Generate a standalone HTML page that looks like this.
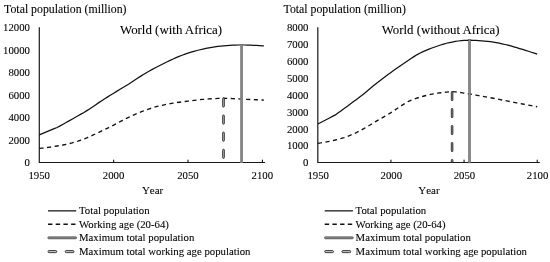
<!DOCTYPE html>
<html><head><meta charset="utf-8"><title>World population</title>
<style>
html,body{margin:0;padding:0;background:#fff;}
svg{display:block;}
text{font-family:"Liberation Serif",serif;fill:#000;stroke:#000;stroke-width:0.09px;}
</style></head>
<body>
<svg width="550" height="262" viewBox="0 0 550 262">
<rect width="550" height="262" fill="#fff"/>
<path d="M39.30 27.30 V162.50 H265.10" fill="none" stroke="#1a1a1a" stroke-width="1.2"/>
<line x1="113.67" x2="113.67" y1="162.50" y2="159.70" stroke="#000" stroke-width="1"/>
<line x1="188.03" x2="188.03" y1="162.50" y2="159.70" stroke="#000" stroke-width="1"/>
<line x1="262.40" x2="262.40" y1="162.50" y2="159.70" stroke="#000" stroke-width="1"/>
<text x="29.90" y="166.30" text-anchor="end" font-size="10.75">0</text>
<text x="29.90" y="143.77" text-anchor="end" font-size="10.75">2000</text>
<text x="29.90" y="121.23" text-anchor="end" font-size="10.75">4000</text>
<text x="29.90" y="98.70" text-anchor="end" font-size="10.75">6000</text>
<text x="29.90" y="76.17" text-anchor="end" font-size="10.75">8000</text>
<text x="29.90" y="53.63" text-anchor="end" font-size="10.75">10000</text>
<text x="29.90" y="31.10" text-anchor="end" font-size="10.75">12000</text>
<text x="39.20" y="178.90" text-anchor="middle" font-size="10.75">1950</text>
<text x="113.57" y="178.90" text-anchor="middle" font-size="10.75">2000</text>
<text x="187.93" y="178.90" text-anchor="middle" font-size="10.75">2050</text>
<text x="262.30" y="178.90" text-anchor="middle" font-size="10.75">2100</text>
<text x="4.10" y="12.70" font-size="11.80">Total population (million)</text>
<text x="120.00" y="34.30" font-size="12.90">World (with Africa)</text>
<text x="141.90" y="194.20" font-size="11.00" style="font-kerning:none">Year</text>
<path d="M39.30 134.90 L42.27 133.66 L45.25 132.42 L48.22 131.18 L51.20 129.94 L54.17 128.70 L57.15 127.46 L60.12 125.86 L63.10 124.19 L66.07 122.54 L69.05 120.87 L72.02 119.18 L75.00 117.49 L77.97 115.81 L80.95 114.15 L83.92 112.43 L86.89 110.60 L89.87 108.70 L92.84 106.72 L95.82 104.65 L98.79 102.61 L101.77 100.65 L104.74 98.74 L107.72 96.87 L110.69 95.04 L113.67 93.22 L116.64 91.37 L119.62 89.52 L122.59 87.73 L125.57 85.99 L128.54 84.20 L131.51 82.24 L134.49 80.23 L137.46 78.27 L140.44 76.36 L143.41 74.51 L146.39 72.74 L149.36 71.04 L152.34 69.38 L155.31 67.78 L158.29 66.22 L161.26 64.68 L164.24 63.19 L167.21 61.74 L170.19 60.34 L173.16 58.98 L176.13 57.67 L179.11 56.42 L182.08 55.25 L185.06 54.14 L188.03 53.11 L191.01 52.16 L193.98 51.28 L196.96 50.48 L199.93 49.74 L202.91 49.07 L205.88 48.45 L208.86 47.89 L211.83 47.37 L214.81 46.90 L217.78 46.49 L220.75 46.12 L223.73 45.80 L226.70 45.54 L229.68 45.31 L232.65 45.16 L235.63 45.07 L238.60 45.00 L241.58 44.98 L244.55 45.00 L247.53 45.06 L250.50 45.15 L253.48 45.28 L256.45 45.43 L259.43 45.63 L262.40 45.83 L263.89 45.94" fill="none" stroke="#111" stroke-width="1.25" stroke-linejoin="round"/>
<path d="M39.30 148.42 L42.27 148.10 L45.25 147.75 L48.22 147.36 L51.20 146.95 L54.17 146.50 L57.15 146.03 L60.12 145.52 L63.10 144.97 L66.07 144.36 L69.05 143.68 L72.02 142.92 L75.00 142.04 L77.97 141.08 L80.95 140.04 L83.92 138.95 L86.89 137.78 L89.87 136.48 L92.84 135.11 L95.82 133.71 L98.79 132.31 L101.77 130.91 L104.74 129.49 L107.72 128.05 L110.69 126.58 L113.67 125.09 L116.64 123.55 L119.62 121.95 L122.59 120.35 L125.57 118.79 L128.54 117.32 L131.51 115.94 L134.49 114.60 L137.46 113.31 L140.44 112.09 L143.41 110.95 L146.39 109.88 L149.36 108.84 L152.34 107.86 L155.31 106.97 L158.29 106.17 L161.26 105.45 L164.24 104.79 L167.21 104.19 L170.19 103.63 L173.16 103.12 L176.13 102.66 L179.11 102.24 L182.08 101.84 L185.06 101.47 L188.03 101.10 L191.01 100.72 L193.98 100.35 L196.96 100.00 L199.93 99.68 L202.91 99.41 L205.88 99.17 L208.86 98.95 L211.83 98.75 L214.81 98.58 L217.78 98.45 L220.75 98.34 L223.73 98.28 L226.70 98.34 L229.68 98.47 L232.65 98.62 L235.63 98.76 L238.60 98.92 L241.58 99.09 L244.55 99.26 L247.53 99.41 L250.50 99.54 L253.48 99.67 L256.45 99.79 L259.43 99.91 L262.40 100.03 L263.89 100.08" fill="none" stroke="#111" stroke-width="1.35" stroke-dasharray="4.2 3.5" stroke-linejoin="round"/>
<rect x="240.15" y="44.38" width="2.80" height="118.52" fill="#838383" stroke="none" stroke-width="0.5"/>
<rect x="222.62" y="97.90" width="1.75" height="9.20" rx="0.88" fill="#b4b4b4" stroke="#161616" stroke-width="0.78"/>
<rect x="222.62" y="115.00" width="1.75" height="9.20" rx="0.88" fill="#b4b4b4" stroke="#161616" stroke-width="0.78"/>
<rect x="222.62" y="132.10" width="1.75" height="9.20" rx="0.88" fill="#b4b4b4" stroke="#161616" stroke-width="0.78"/>
<rect x="222.62" y="149.20" width="1.75" height="9.20" rx="0.88" fill="#b4b4b4" stroke="#161616" stroke-width="0.78"/>
<line x1="48.00" x2="76.20" y1="210.85" y2="210.85" stroke="#111" stroke-width="1.25"/>
<line x1="48.00" x2="76.20" y1="224.25" y2="224.25" stroke="#111" stroke-width="1.35" stroke-dasharray="4.4 3.3"/>
<rect x="47.70" y="236.70" width="29.00" height="2.2" rx="1.1" fill="#808080" stroke="#4a4a4a" stroke-width="0.55"/>
<rect x="48.00" y="250.55" width="8.8" height="2.1" rx="1.05" fill="#c4c4c4" stroke="#161616" stroke-width="0.8"/>
<rect x="65.20" y="250.55" width="8.8" height="2.1" rx="1.05" fill="#c4c4c4" stroke="#161616" stroke-width="0.8"/>
<text x="79.00" y="214.45" font-size="10.75">Total population</text>
<text x="79.00" y="227.85" font-size="10.75">Working age (20-64)</text>
<text x="79.00" y="241.40" font-size="10.75">Maximum total population</text>
<text x="79.00" y="255.20" font-size="10.75">Maximum total working age population</text>
<path d="M317.80 27.30 V162.50 H539.90" fill="none" stroke="#1a1a1a" stroke-width="1.2"/>
<line x1="390.93" x2="390.93" y1="162.50" y2="159.70" stroke="#000" stroke-width="1"/>
<line x1="464.07" x2="464.07" y1="162.50" y2="159.70" stroke="#000" stroke-width="1"/>
<line x1="537.20" x2="537.20" y1="162.50" y2="159.70" stroke="#000" stroke-width="1"/>
<text x="308.40" y="166.30" text-anchor="end" font-size="10.75">0</text>
<text x="308.40" y="149.40" text-anchor="end" font-size="10.75">1000</text>
<text x="308.40" y="132.50" text-anchor="end" font-size="10.75">2000</text>
<text x="308.40" y="115.60" text-anchor="end" font-size="10.75">3000</text>
<text x="308.40" y="98.70" text-anchor="end" font-size="10.75">4000</text>
<text x="308.40" y="81.80" text-anchor="end" font-size="10.75">5000</text>
<text x="308.40" y="64.90" text-anchor="end" font-size="10.75">6000</text>
<text x="308.40" y="48.00" text-anchor="end" font-size="10.75">7000</text>
<text x="308.40" y="31.10" text-anchor="end" font-size="10.75">8000</text>
<text x="318.20" y="178.90" text-anchor="middle" font-size="10.75">1950</text>
<text x="391.33" y="178.90" text-anchor="middle" font-size="10.75">2000</text>
<text x="464.47" y="178.90" text-anchor="middle" font-size="10.75">2050</text>
<text x="537.60" y="178.90" text-anchor="middle" font-size="10.75">2100</text>
<text x="283.50" y="12.70" font-size="11.80">Total population (million)</text>
<text x="381.80" y="34.30" font-size="12.80">World (without Africa)</text>
<text x="418.20" y="194.20" font-size="11.00" style="font-kerning:none">Year</text>
<path d="M317.80 124.05 L320.73 122.53 L323.65 121.00 L326.58 119.47 L329.50 117.94 L332.43 116.42 L335.35 114.89 L338.28 112.77 L341.20 110.65 L344.13 108.53 L347.05 106.39 L349.98 104.25 L352.90 102.12 L355.83 99.97 L358.75 97.78 L361.68 95.53 L364.61 93.17 L367.53 90.73 L370.46 88.26 L373.38 85.81 L376.31 83.44 L379.23 81.16 L382.16 78.92 L385.08 76.72 L388.01 74.55 L390.93 72.42 L393.86 70.32 L396.78 68.26 L399.71 66.22 L402.63 64.23 L405.56 62.27 L408.49 60.29 L411.41 58.30 L414.34 56.37 L417.26 54.58 L420.19 52.99 L423.11 51.59 L426.04 50.31 L428.96 49.13 L431.89 48.03 L434.81 46.99 L437.74 45.98 L440.66 44.99 L443.59 44.07 L446.51 43.26 L449.44 42.59 L452.37 42.02 L455.29 41.47 L458.22 41.00 L461.14 40.64 L464.07 40.41 L466.99 40.29 L469.92 40.23 L472.84 40.28 L475.77 40.41 L478.69 40.57 L481.62 40.76 L484.54 41.02 L487.47 41.33 L490.39 41.69 L493.32 42.09 L496.25 42.56 L499.17 43.14 L502.10 43.79 L505.02 44.49 L507.95 45.21 L510.87 45.97 L513.80 46.79 L516.72 47.65 L519.65 48.54 L522.57 49.44 L525.50 50.34 L528.42 51.27 L531.35 52.22 L534.27 53.18 L537.20 54.17" fill="none" stroke="#111" stroke-width="1.25" stroke-linejoin="round"/>
<path d="M317.80 143.30 L320.73 142.90 L323.65 142.43 L326.58 141.90 L329.50 141.32 L332.43 140.70 L335.35 140.02 L338.28 139.27 L341.20 138.45 L344.13 137.54 L347.05 136.56 L349.98 135.44 L352.90 134.17 L355.83 132.78 L358.75 131.31 L361.68 129.80 L364.61 128.21 L367.53 126.50 L370.46 124.72 L373.38 122.93 L376.31 121.18 L379.23 119.48 L382.16 117.81 L385.08 116.13 L388.01 114.42 L390.93 112.65 L393.86 110.77 L396.78 108.80 L399.71 106.81 L402.63 104.86 L405.56 103.01 L408.49 101.32 L411.41 100.05 L414.34 98.95 L417.26 97.98 L420.19 97.10 L423.11 96.27 L426.04 95.50 L428.96 94.79 L431.89 94.16 L434.81 93.63 L437.74 93.18 L440.66 92.77 L443.59 92.41 L446.51 92.10 L449.44 91.86 L452.37 91.69 L455.29 91.84 L458.22 92.20 L461.14 92.67 L464.07 93.13 L466.99 93.56 L469.92 94.04 L472.84 94.54 L475.77 95.06 L478.69 95.58 L481.62 96.10 L484.54 96.63 L487.47 97.17 L490.39 97.72 L493.32 98.28 L496.25 98.84 L499.17 99.42 L502.10 100.00 L505.02 100.58 L507.95 101.15 L510.87 101.73 L513.80 102.31 L516.72 102.89 L519.65 103.46 L522.57 104.03 L525.50 104.58 L528.42 105.13 L531.35 105.67 L534.27 106.20 L537.20 106.73" fill="none" stroke="#111" stroke-width="1.35" stroke-dasharray="4.2 3.5" stroke-linejoin="round"/>
<rect x="468.40" y="39.63" width="2.20" height="123.27" fill="#8a8a8a" stroke="#5c5c5c" stroke-width="0.5"/>
<rect x="451.30" y="91.40" width="1.60" height="9.30" rx="0.80" fill="#909090" stroke="#161616" stroke-width="0.78"/>
<rect x="451.30" y="108.40" width="1.60" height="9.30" rx="0.80" fill="#909090" stroke="#161616" stroke-width="0.78"/>
<rect x="451.30" y="125.40" width="1.60" height="9.30" rx="0.80" fill="#909090" stroke="#161616" stroke-width="0.78"/>
<rect x="451.30" y="142.40" width="1.60" height="9.30" rx="0.80" fill="#909090" stroke="#161616" stroke-width="0.78"/>
<rect x="451.30" y="159.40" width="1.60" height="3.10" rx="0.80" fill="#909090" stroke="#161616" stroke-width="0.78"/>
<line x1="324.70" x2="352.90" y1="210.85" y2="210.85" stroke="#111" stroke-width="1.25"/>
<line x1="324.70" x2="352.90" y1="224.25" y2="224.25" stroke="#111" stroke-width="1.35" stroke-dasharray="4.4 3.3"/>
<rect x="324.40" y="236.70" width="29.00" height="2.2" rx="1.1" fill="#808080" stroke="#4a4a4a" stroke-width="0.55"/>
<rect x="324.70" y="250.55" width="8.8" height="2.1" rx="1.05" fill="#c4c4c4" stroke="#161616" stroke-width="0.8"/>
<rect x="341.90" y="250.55" width="8.8" height="2.1" rx="1.05" fill="#c4c4c4" stroke="#161616" stroke-width="0.8"/>
<text x="355.60" y="214.45" font-size="10.75">Total population</text>
<text x="355.60" y="227.85" font-size="10.75">Working age (20-64)</text>
<text x="355.60" y="241.40" font-size="10.75">Maximum total population</text>
<text x="355.60" y="255.20" font-size="10.75">Maximum total working age population</text>
</svg>
</body></html>
